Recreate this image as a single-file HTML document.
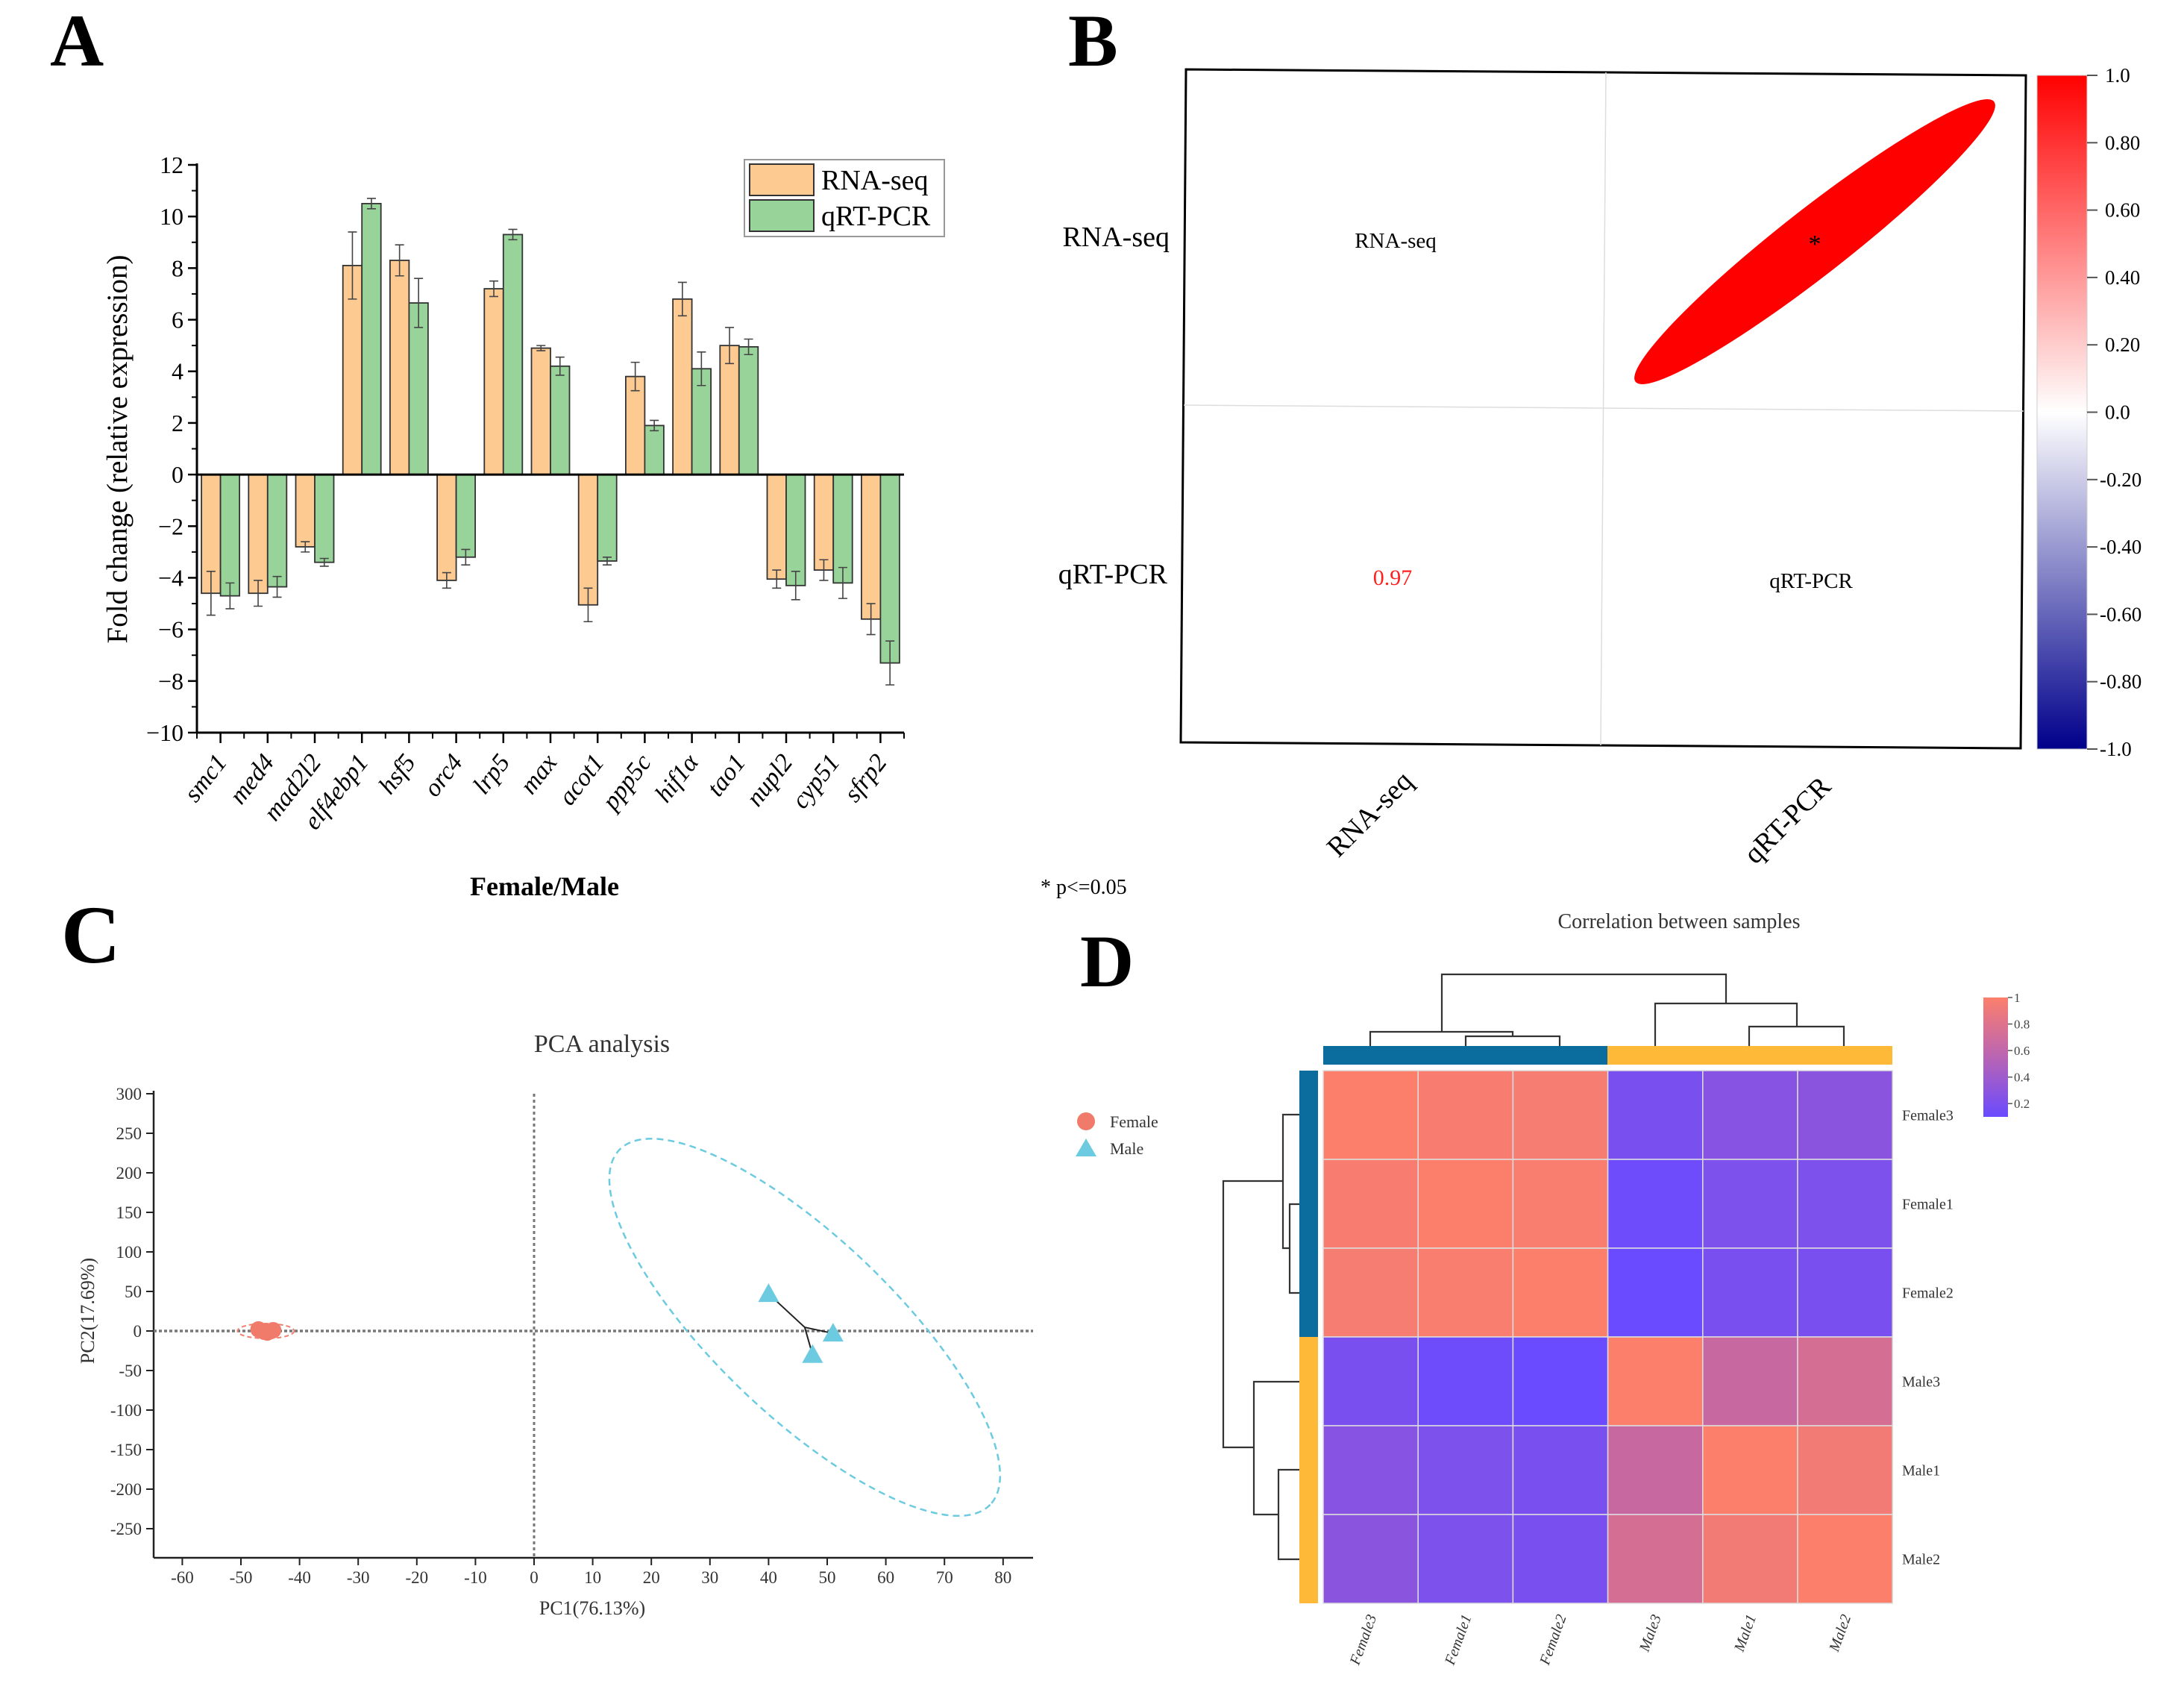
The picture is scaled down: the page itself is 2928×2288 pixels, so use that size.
<!DOCTYPE html>
<html><head><meta charset="utf-8"><style>
html,body{margin:0;padding:0;background:#fff;}
svg{display:block;font-family:"Liberation Serif",serif;}
</style></head><body>
<svg id="fig" width="2928" height="2288" viewBox="0 0 2928 2288" xmlns="http://www.w3.org/2000/svg">
<defs>
<linearGradient id="gB" x1="0" y1="0" x2="0" y2="1">
<stop offset="0" stop-color="#ff0000"/><stop offset="0.5" stop-color="#ffffff"/><stop offset="1" stop-color="#00008b"/>
</linearGradient>
<linearGradient id="gD" x1="0" y1="0" x2="0" y2="1">
<stop offset="0" stop-color="#fc7f6c"/><stop offset="0.5" stop-color="#b964b4"/><stop offset="1" stop-color="#6a4bff"/>
</linearGradient>
</defs>
<text x="67" y="88" font-size="100" font-weight="bold">A</text>
<text x="1432" y="88" font-size="100" font-weight="bold">B</text>
<text x="82" y="1290" font-size="110" font-weight="bold">C</text>
<text x="1448" y="1322" font-size="100" font-weight="bold">D</text>

<g id="panelA"></g>
<g id="panelB"></g>
<g id="panelC"></g>
<g id="panelD"></g>
</svg>
<script>
const genes = ["smc1","med4","mad2l2","elf4ebp1","hsf5","orc4","lrp5","max","acot1","ppp5c","hif1α","tao1","nupl2","cyp51","sfrp2"];
const rnaSeq = [-4.6,-4.6,-2.8,8.1,8.3,-4.1,7.2,4.9,-5.05,3.8,6.8,5.0,-4.05,-3.7,-5.6];
const rnaErr = [0.85,0.5,0.2,1.3,0.6,0.3,0.3,0.1,0.65,0.55,0.65,0.7,0.35,0.4,0.6];
const qpcr = [-4.7,-4.35,-3.4,10.5,6.65,-3.2,9.3,4.2,-3.35,1.9,4.1,4.95,-4.3,-4.2,-7.3];
const qpcrErr = [0.5,0.4,0.15,0.2,0.95,0.3,0.2,0.35,0.15,0.2,0.65,0.3,0.55,0.6,0.85];
const aTicks = [-10,-8,-6,-4,-2,0,2,4,6,8,10,12];

const corrLabels = ["RNA-seq","qRT-PCR"];
const corrValue = [0.97];
const cbTicksB = ["1.0","0.80","0.60","0.40","0.20","0.0","-0.20","-0.40","-0.60","-0.80","-1.0"];

const pcaFemaleX = [-47,-45.5,-44.5,-46];
const pcaFemaleY = [2,-2,1,-1];
const pcaMaleX = [40,51,47.5];
const pcaMaleY = [47,-3,-30];
const pcaXTicks = [-60,-50,-40,-30,-20,-10,0,10,20,30,40,50,60,70,80];
const pcaYTicks = [300,250,200,150,100,50,0,-50,-100,-150,-200,-250];

const samples = ["Female3","Female1","Female2","Male3","Male1","Male2"];
const corrMatrix = [
 [1,0.97,0.96,0.18,0.25,0.27],
 [0.97,1,0.98,0.12,0.2,0.2],
 [0.96,0.98,1,0.1,0.18,0.18],
 [0.18,0.12,0.1,1,0.62,0.72],
 [0.25,0.2,0.18,0.62,1,0.93],
 [0.27,0.2,0.18,0.72,0.93,1]];
const cbTicksD = [1,0.8,0.6,0.4,0.2];

const NS="http://www.w3.org/2000/svg";
function mk(parent,tag,attrs,text){const e=document.createElementNS(NS,tag);for(const k in attrs)e.setAttribute(k,attrs[k]);if(text!==undefined)e.textContent=text;parent.appendChild(e);return e;}

/* ---------- Panel A ---------- */
(function(){
const g=document.getElementById('panelA');
const x0=264,x1=1212,yTop=221,yBot=982;
const y=v=>yTop+(12-v)*(yBot-yTop)/22;
const step=(x1-x0)/genes.length;
const cx=i=>x0+(i+0.5)*step;
const bw=25.5;
let e;
e=mk(g,'line',{x1:x0,y1:y(12)-2,x2:x0,y2:yBot,stroke:'#000','stroke-width':3});

e=mk(g,'line',{x1:x0,y1:yBot,x2:x1,y2:yBot,stroke:'#000','stroke-width':3});

aTicks.forEach(t=>{
 mk(g,'line',{x1:x0-12,y1:y(t),x2:x0,y2:y(t),stroke:'#000','stroke-width':2.5});
 if(t<12) mk(g,'line',{x1:x0-7,y1:y(t+1),x2:x0,y2:y(t+1),stroke:'#000','stroke-width':2});
 e=mk(g,'text',{x:x0-18,y:y(t)+11,'font-size':32,'text-anchor':'end'},t<0?'\u2212'+(-t):String(t));
 
});
for(let i=0;i<=genes.length;i++){
 mk(g,'line',{x1:x0+i*step,y1:yBot,x2:x0+i*step,y2:yBot+8,stroke:'#000','stroke-width':2});
}
genes.forEach((n,i)=>{
 mk(g,'line',{x1:cx(i),y1:yBot,x2:cx(i),y2:yBot+14,stroke:'#000','stroke-width':2.5});
 const c=cx(i);
 [[rnaSeq[i],rnaErr[i],c-bw,'#fdca92','bar-rna-seq'],[qpcr[i],qpcrErr[i],c,'#98d49a','bar-qrt-pcr']].forEach(([v,er,bx,col,nm])=>{
  const yv=y(v),y0=y(0);
  e=mk(g,'rect',{x:bx,y:Math.min(yv,y0),width:bw,height:Math.abs(yv-y0),fill:col,stroke:'#333','stroke-width':1.8});
  
  const mx=bx+bw/2;
  e=mk(g,'path',{d:`M${mx},${y(v-er)}V${y(v+er)}M${mx-6},${y(v-er)}H${mx+6}M${mx-6},${y(v+er)}H${mx+6}`,stroke:'#444','stroke-width':1.6,fill:'none'});
  
 });
 e=mk(g,'text',{x:0,y:0,'font-size':34,'font-style':'italic','text-anchor':'end',transform:`translate(${c+10},${yBot+40}) rotate(-52)`},n);
 
});
mk(g,'line',{x1:x0,y1:y(0),x2:x1,y2:y(0),stroke:'#000','stroke-width':3});
e=mk(g,'text',{x:0,y:0,'font-size':39,'text-anchor':'middle',transform:'translate(170,602) rotate(-90)'},'Fold change (relative expression)');

e=mk(g,'text',{x:730,y:1200,'font-size':36,'font-weight':'bold','text-anchor':'middle'},'Female/Male');

const lg=mk(g,'g',{});

mk(lg,'rect',{x:998,y:214,width:268,height:103,fill:'#fff',stroke:'#999','stroke-width':2});
mk(lg,'rect',{x:1005,y:220,width:86,height:42,fill:'#fdca92',stroke:'#333','stroke-width':2});
mk(lg,'rect',{x:1005,y:268,width:86,height:42,fill:'#98d49a',stroke:'#333','stroke-width':2});
e=mk(lg,'text',{x:1101,y:254,'font-size':38},'RNA-seq');
e=mk(lg,'text',{x:1101,y:302,'font-size':38},'qRT-PCR');
})();

/* ---------- Panel B ---------- */
(function(){
const g=document.getElementById('panelB');
let e;
e=mk(g,'polygon',{points:'1590,93 2716,101 2709,1003 1583,995',fill:'#fff',stroke:'#000','stroke-width':3});

mk(g,'line',{x1:2153,y1:97,x2:2146,y2:999,stroke:'#ddd','stroke-width':1.5});
mk(g,'line',{x1:1587,y1:543,x2:2713,y2:551,stroke:'#ddd','stroke-width':1.5});
const r=corrValue[0];
const semiMinor=48*(1-r)/0.03*0.55+18;
e=mk(g,'ellipse',{cx:2433,cy:324,rx:305,ry:semiMinor,fill:'#ff0000',transform:'rotate(-38 2433 324)'});

mk(g,'text',{x:2433,y:338,'font-size':34,'text-anchor':'middle'},'*');
e=mk(g,'text',{x:1867,y:784,'font-size':30,fill:'#ff2020','text-anchor':'middle'},r.toFixed(2));

mk(g,'text',{x:1871,y:332,'font-size':29,'text-anchor':'middle'},corrLabels[0]);
mk(g,'text',{x:2428,y:788,'font-size':29,'text-anchor':'middle'},corrLabels[1]);
e=mk(g,'text',{x:1568,y:330,'font-size':38,'text-anchor':'end'},corrLabels[0]);
e=mk(g,'text',{x:1565,y:782,'font-size':38,'text-anchor':'end'},corrLabels[1]);
e=mk(g,'text',{x:0,y:0,'font-size':38,'text-anchor':'middle',transform:'translate(1845,1100) rotate(-45)'},corrLabels[0]);
e=mk(g,'text',{x:0,y:0,'font-size':38,'text-anchor':'middle',transform:'translate(2405,1108) rotate(-45)'},corrLabels[1]);
e=mk(g,'rect',{x:2731,y:101,width:67,height:903,fill:'url(#gB)',stroke:'#ccc','stroke-width':1});

cbTicksB.forEach((t,i)=>{
 const yy=101+i*903/10;
 mk(g,'line',{x1:2798,y1:yy,x2:2812,y2:yy,stroke:'#555','stroke-width':2});
 e=mk(g,'text',{x:(t[0]==='-'?2815:2822),y:yy+9,'font-size':27},t);
 
});
e=mk(g,'text',{x:1395,y:1198,'font-size':28},'* p<=0.05');

})();

/* ---------- Panel C ---------- */
(function(){
const g=document.getElementById('panelC');
const X=v=>716+v*7.86, Y=v=>1784-v*1.06;
let e;
e=mk(g,'text',{x:807,y:1410,'font-size':34,'text-anchor':'middle',fill:'#333'},'PCA analysis');

e=mk(g,'line',{x1:206,y1:1462,x2:206,y2:2088,stroke:'#222','stroke-width':2.5});
e=mk(g,'line',{x1:206,y1:2088,x2:1385,y2:2088,stroke:'#222','stroke-width':2.5});
pcaYTicks.forEach(t=>{
 mk(g,'line',{x1:196,y1:Y(t),x2:206,y2:Y(t),stroke:'#222','stroke-width':2});
 e=mk(g,'text',{x:190,y:Y(t)+8,'font-size':23,'text-anchor':'end',fill:'#333'},String(t));
 
});
pcaXTicks.forEach(t=>{
 mk(g,'line',{x1:X(t),y1:2088,x2:X(t),y2:2098,stroke:'#222','stroke-width':2});
 e=mk(g,'text',{x:X(t),y:2122,'font-size':23,'text-anchor':'middle',fill:'#333'},String(t));
 
});
mk(g,'line',{x1:X(0),y1:1466,x2:X(0),y2:2088,stroke:'#777','stroke-width':3,'stroke-dasharray':'4,4'});
mk(g,'line',{x1:206,y1:Y(0),x2:1385,y2:Y(0),stroke:'#777','stroke-width':3.5,'stroke-dasharray':'4,3'});
e=mk(g,'text',{x:794,y:2164,'font-size':26,'text-anchor':'middle',fill:'#333'},'PC1(76.13%)');
e=mk(g,'text',{x:0,y:0,'font-size':26,'text-anchor':'middle',fill:'#333',transform:'translate(126,1757) rotate(-90)'},'PC2(17.69%)');
const mcx=pcaMaleX.reduce((a,b)=>a+b)/3, mcy=pcaMaleY.reduce((a,b)=>a+b)/3;
e=mk(g,'ellipse',{cx:X(mcx),cy:Y(mcy),rx:344,ry:119,fill:'none',stroke:'#6ccbe0','stroke-width':2.5,'stroke-dasharray':'9,6',transform:`rotate(43.7 ${X(mcx)} ${Y(mcy)})`});

const fcx=pcaFemaleX.reduce((a,b)=>a+b)/pcaFemaleX.length, fcy=pcaFemaleY.reduce((a,b)=>a+b)/pcaFemaleY.length;
e=mk(g,'ellipse',{cx:X(fcx),cy:Y(fcy),rx:38,ry:10,fill:'none',stroke:'#f08070','stroke-width':2,'stroke-dasharray':'6,4'});

pcaMaleX.forEach((v,i)=>{mk(g,'line',{x1:X(mcx),y1:Y(mcy),x2:X(v),y2:Y(pcaMaleY[i]),stroke:'#222','stroke-width':2});});
pcaFemaleX.forEach((v,i)=>{
 e=mk(g,'circle',{cx:X(v),cy:Y(pcaFemaleY[i]),r:11,fill:'#f07b6b'});
 
});
pcaMaleX.forEach((v,i)=>{
 const px=X(v),py=Y(pcaMaleY[i]);
 e=mk(g,'polygon',{points:`${px},${py-14} ${px-14},${py+11} ${px+14},${py+11}`,fill:'#6ccbe0'});
 
});
const lg=mk(g,'g',{});
mk(lg,'circle',{cx:1456,cy:1503,r:12,fill:'#f07b6b'});
mk(lg,'polygon',{points:'1456,1526 1442,1550 1470,1550',fill:'#6ccbe0'});
e=mk(lg,'text',{x:1488,y:1511,'font-size':22,fill:'#333'},'Female');
e=mk(lg,'text',{x:1488,y:1547,'font-size':22,fill:'#333'},'Male');
})();

/* ---------- Panel D ---------- */
(function(){
const g=document.getElementById('panelD');
const hx=1774,hy=1435,cw=127.2,ch=119;
const lo=[106,75,255],hi=[252,127,108],mid=[190,100,170];
function col(v){const t=Math.max(0,Math.min(1,(v-0.1)/0.9));let a,b,u;if(t<0.5){a=lo;b=mid;u=t/0.5;}else{a=mid;b=hi;u=(t-0.5)/0.5;}return `rgb(${a.map((c,k)=>Math.round(c+(b[k]-c)*u)).join(',')})`;}
let e;
e=mk(g,'text',{x:2251,y:1244,'font-size':28,'text-anchor':'middle',fill:'#333'},'Correlation between samples');

corrMatrix.forEach((row,i)=>row.forEach((v,j)=>{
 e=mk(g,'rect',{x:hx+j*cw,y:hy+i*ch,width:cw,height:ch,fill:col(v),stroke:'#ddd','stroke-width':1.5});
 
}));
e=mk(g,'rect',{x:1774,y:1402,width:381,height:25,fill:'#0b6d9e'});
e=mk(g,'rect',{x:2155,y:1402,width:382,height:25,fill:'#fdb937'});
e=mk(g,'rect',{x:1742,y:1435,width:25,height:357,fill:'#0b6d9e'});
e=mk(g,'rect',{x:1742,y:1792,width:25,height:357,fill:'#fdb937'});
const dt='M1933,1383V1306H2314V1345 M1837,1402V1383H2028V1389 M1965,1402V1389H2091V1402 M2219,1402V1345H2409V1376 M2345,1402V1376H2472V1402';
e=mk(g,'path',{d:dt,fill:'none',stroke:'#333','stroke-width':2.2});
const dl='M1720,1583H1640V1940H1681 M1742,1494H1720V1673H1729 M1742,1614H1729V1733H1742 M1742,1852H1681V2030H1714 M1742,1970H1714V2090H1742';
e=mk(g,'path',{d:dl,fill:'none',stroke:'#333','stroke-width':2.2});
samples.forEach((s,i)=>{
 e=mk(g,'text',{x:2550,y:hy+i*ch+ch/2+7,'font-size':20,fill:'#333'},s);
 
 e=mk(g,'text',{x:0,y:0,'font-size':20,'font-style':'italic','text-anchor':'end',fill:'#333',transform:`translate(${hx+i*cw+cw/2+8},${hy+6*ch+18}) rotate(-70)`},s);
 
});
e=mk(g,'rect',{x:2659,y:1337,width:33,height:160,fill:'url(#gD)'});

cbTicksD.forEach(t=>{
 const yy=1337+(1-t)/0.9*160;
 mk(g,'line',{x1:2692,y1:yy,x2:2698,y2:yy,stroke:'#555','stroke-width':1.5});
 e=mk(g,'text',{x:2700,y:yy+6,'font-size':17,fill:'#444'},String(t));
 
});
})();
</script>
</body></html>
